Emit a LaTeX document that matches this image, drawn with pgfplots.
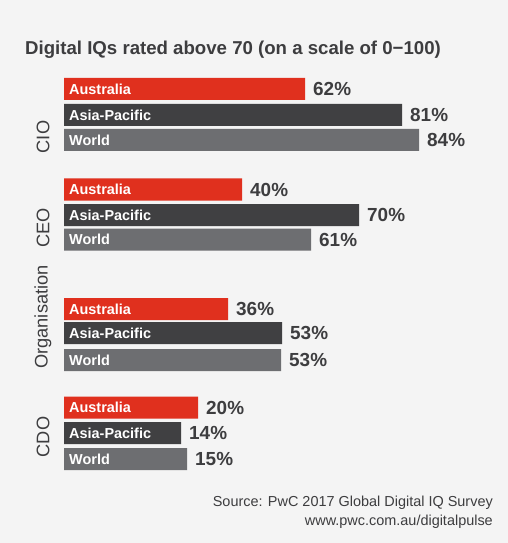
\documentclass[border=0pt]{standalone}
\usepackage{fontspec}
\setmainfont{Liberation Sans}
\usepackage{pgfplots}
\usepackage{pgfplotstable}
\pgfplotsset{compat=1.18}

\definecolor{bgcol}{HTML}{F4F4F4}
\definecolor{ausred}{HTML}{E0301E}
\definecolor{apdark}{HTML}{404042}
\definecolor{worldgray}{HTML}{6D6E71}
\definecolor{txtcol}{HTML}{3D3D3F}

\newcommand\valfont{\fontsize{19}{21}\selectfont\bfseries}
\newcommand\lblfont{\fontsize{14.5}{16}\selectfont\bfseries}

% y = bar centre (px from top), len = drawn bar length, pct = printed value
\pgfplotstableread{
y     len  pct
89    241  62
189.5 178  40
309   164  36
407.5 134  20
}\aus
\pgfplotstableread{
y     len  pct
115   338  81
215   295  70
333   218  53
433   117  14
}\apac
\pgfplotstableread{
y     len  pct
140   355  84
239.5 247  61
360   217  53
459   123  15
}\world

\begin{document}
\begin{tikzpicture}
\fill[bgcol] (0,0) rectangle (508bp,543bp);
\begin{axis}[
    at={(0,0)}, anchor=south west,
    width=508bp, height=543bp, scale only axis,
    hide axis, clip=false,
    xmin=-64, xmax=444, ymin=0, ymax=543, y dir=reverse,
    bar width=22, bar shift=0pt,
    value/.style={xbar, draw=none, nodes near coords={\pgfplotspointmeta\%},
        point meta=explicit symbolic,
        nodes near coords style={anchor=west, inner sep=0pt, xshift=8bp,
            text=txtcol, font=\valfont}},
    inlabel/.style={draw=none, mark=none, nodes near coords={#1},
        nodes near coords style={anchor=west, inner sep=0pt, xshift=5bp,
            text=white, font=\lblfont}},
]
\addplot[value, fill=ausred] table[x=len, y=y, meta=pct] {\aus};
\addplot[value, fill=apdark] table[x=len, y=y, meta=pct] {\apac};
\addplot[value, fill=worldgray] table[x=len, y=y, meta=pct] {\world};

\addplot[inlabel=Australia] table[x expr=0, y=y] {\aus};
\addplot[inlabel=Asia-Pacific] table[x expr=0, y=y] {\apac};
\addplot[inlabel=World] table[x expr=0, y=y] {\world};

% title, group names, source
\node[anchor=west, text=txtcol, font=\fontsize{18.7}{21}\selectfont\bfseries, inner sep=0pt]
    at (axis cs:-39,50) {Digital IQs rated above 70 (on a scale of 0\textminus100)};
\begin{scope}[every node/.style={rotate=90, text=txtcol, inner sep=0pt,
        font=\fontsize{18.3}{20}\selectfont}]
\node at (axis cs:-21,137) {CIO};
\node at (axis cs:-21,228) {CEO};
\node at (axis cs:-21,317) {Organisation};
\node at (axis cs:-21,437) {CDO};
\end{scope}
\node[anchor=east, text=txtcol, inner sep=0pt, font=\fontsize{14.5}{16}\selectfont]
    at (axis cs:429,503) {Source: PwC 2017 Global Digital IQ Survey};
\node[anchor=east, text=txtcol, inner sep=0pt, font=\fontsize{14.5}{16}\selectfont]
    at (axis cs:429,522) {www.pwc.com.au/digitalpulse};
\end{axis}
\end{tikzpicture}
\end{document}
